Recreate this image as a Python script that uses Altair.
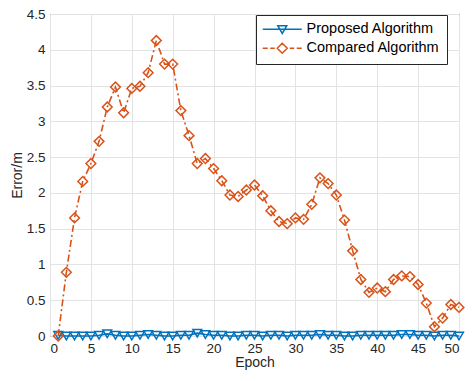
import altair as alt
import pandas as pd

epochs = list(range(1, 51))
proposed = [0.01, 0.0, 0.0, 0.0, 0.0, 0.01, 0.03, 0.01, 0.0, 0.0,
            0.01, 0.02, 0.01, 0.0, 0.0, 0.01, 0.01, 0.04, 0.02, 0.01,
            0.01, 0.0, 0.0, 0.01, 0.01, 0.0, 0.01, 0.01, 0.0, 0.01,
            0.01, 0.01, 0.02, 0.01, 0.01, 0.0, 0.0, 0.01, 0.01, 0.01,
            0.01, 0.01, 0.02, 0.02, 0.01, 0.01, 0.0, 0.01, 0.01, 0.0]
compared = [0.0, 0.89, 1.65, 2.16, 2.41, 2.72, 3.20, 3.48, 3.12, 3.46,
            3.49, 3.68, 4.13, 3.80, 3.80, 3.15, 2.80, 2.41, 2.48, 2.34,
            2.17, 1.97, 1.95, 2.04, 2.11, 1.96, 1.75, 1.60, 1.57, 1.65,
            1.63, 1.84, 2.21, 2.13, 1.97, 1.62, 1.19, 0.79, 0.61, 0.67,
            0.62, 0.79, 0.84, 0.83, 0.72, 0.46, 0.13, 0.25, 0.44, 0.40]
series_names = ["Proposed Algorithm", "Compared Algorithm"]
series_colors = ["#0072BD", "#D95319"]
x_ticks = list(range(0, 51, 5))
y_ticks = [0, 0.5, 1, 1.5, 2, 2.5, 3, 3.5, 4, 4.5]

rows = []
for name, vals in zip(series_names, [proposed, compared]):
    for e, v in zip(epochs, vals):
        rows.append({"Epoch": e, "Error": v, "Series": name})
df = pd.DataFrame(rows)

# legend-only rows, kept outside the plot area (clipped)
legend_df = pd.DataFrame({"Epoch": [1, 1], "Error": [-1, -1], "Series": series_names})

FONT = "Liberation Sans"

# legend glyphs: line + marker, units of 5px
legend_paths = [
    "M-3.9,0H3.9M-0.9,-0.7L0.9,-0.7L0,0.85Z",
    "M-3.9,0H-2.9M-2.4,0H-1.5M1.5,0H2.4M2.9,0H3.9M-1,0L0,-1L1,0L0,1Z",
]

legend = alt.Legend(
    title=None,
    orient="none",
    legendX=206,
    legendY=1,
    strokeColor="#262626",
    fillColor="white",
    padding=7,
    cornerRadius=0,
    labelFont=FONT,
    labelFontSize=14.5,
    labelColor="black",
    symbolSize=100,
    symbolStrokeWidth=1.5,
    symbolOffset=12,
    labelOffset=17,
    rowPadding=3,
)

color_scale = alt.Scale(domain=series_names, range=series_colors)
color = alt.Color("Series:N", scale=color_scale, legend=legend)

x = alt.X(
    "Epoch:Q",
    scale=alt.Scale(domain=[0, 50], nice=False),
    axis=alt.Axis(values=x_ticks, title="Epoch", labelPadding=5, titlePadding=1),
)
y = alt.Y(
    "Error:Q",
    scale=alt.Scale(domain=[0, 4.5], nice=False),
    axis=alt.Axis(values=y_ticks, format="~g", title="Error/m", labelPadding=5, titlePadding=2),
)

def series_df(i):
    return alt.Chart(df).transform_filter(alt.datum.Series == series_names[i])

line_proposed = series_df(0).mark_line(strokeWidth=1.6).encode(
    x=x, y=y, color=color, order="Epoch:Q"
)
line_compared = series_df(1).mark_line(strokeWidth=1.6, strokeDash=[7, 3, 2, 3]).encode(
    x=x, y=y, color=color, order="Epoch:Q"
)
pts_proposed = series_df(0).mark_point(
    filled=False, strokeWidth=1.5, opacity=1, shape="triangle-down", size=75
).encode(x=x, y=y, color=color)
pts_compared = series_df(1).mark_point(
    filled=False, strokeWidth=1.5, opacity=1, shape="diamond", size=95
).encode(x=x, y=y, color=color)

legend_layer = (
    alt.Chart(legend_df)
    .mark_point(filled=False, strokeWidth=1.5, opacity=1, size=100, clip=True)
    .encode(
        x=x,
        y=y,
        color=color,
        shape=alt.Shape(
            "Series:N",
            scale=alt.Scale(domain=series_names, range=legend_paths),
            legend=legend,
        ),
    )
)

chart = (
    alt.layer(line_proposed, line_compared, pts_proposed, pts_compared, legend_layer)
    .properties(
        width=409,
        height=322,
        autosize=alt.AutoSizeParams(type="none"),
        padding={"left": 42, "top": 6, "right": 7, "bottom": 37},
        background="white",
    )
    .configure_view(stroke="#262626", strokeWidth=1)
    .configure_axis(
        labelFont=FONT,
        titleFont=FONT,
        labelFontSize=13.5,
        titleFontSize=14,
        titleFontWeight="normal",
        labelColor="#262626",
        titleColor="#262626",
        grid=True,
        gridColor="#e3e3e3",
        gridWidth=1,
        domain=False,
        ticks=False,
    )
)

chart.save("out.html", embed_options={"renderer": "svg", "actions": False})
